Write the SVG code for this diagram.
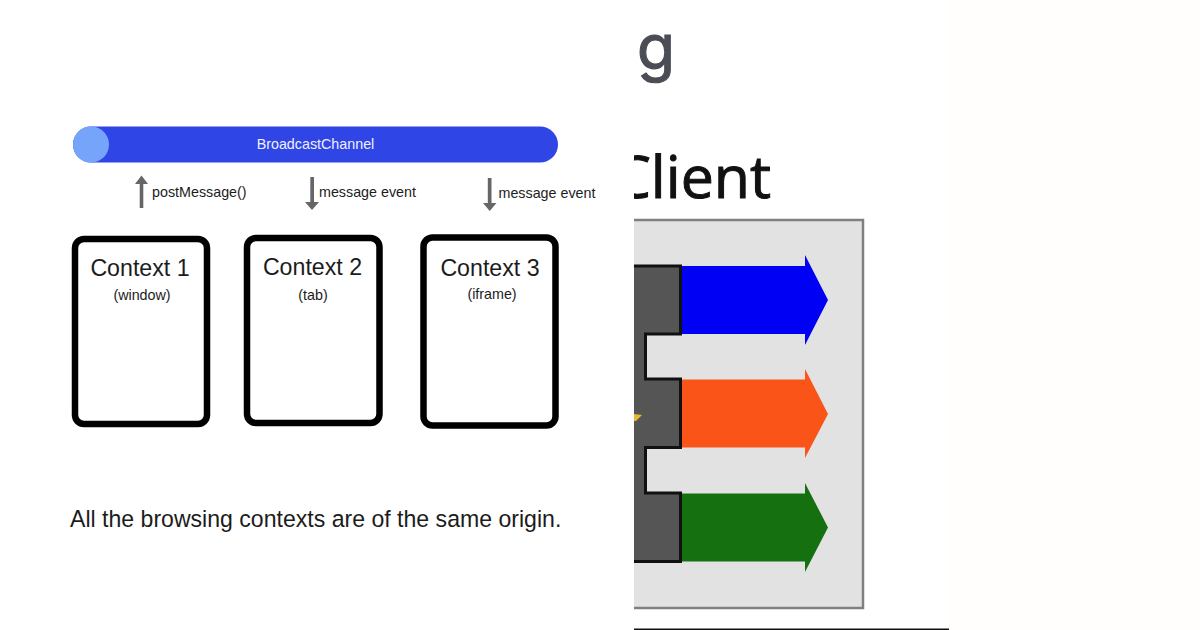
<svg xmlns="http://www.w3.org/2000/svg" width="1200" height="630" viewBox="0 0 1200 630">
<style>
text{font-family:"Liberation Sans",Arial,sans-serif;fill:#1c1c1c}
.t{font-size:23.200px;text-anchor:middle}
.s{font-size:14.300px;text-anchor:middle}
.l{font-size:14.300px}
.box{fill:#fff;stroke:#000;stroke-width:6.500}
.ar{fill:#666}
</style>
<defs><clipPath id="c"><rect x="634" y="0" width="316" height="630"/></clipPath></defs>
<rect width="1200" height="630" fill="#fff"/>
<rect x="950" width="250" height="630" fill="#fffefc"/>
<g id="channel">
<rect x="73" y="126.500" width="485" height="36" rx="18" fill="#3045e6"/>
<circle cx="91" cy="144.500" r="18" fill="#76a4fb"/>
<text x="315.500" y="149" class="s" style="fill:#eef0ff">BroadcastChannel</text>
</g>
<g id="connectors">
<path class="ar" d="M139.700 208V184H135L141.500 175.500L148 184H143.300V208Z"/>
<text x="152" y="197" class="l">postMessage()</text>
<path class="ar" d="M310.300 177V202H305L312 210L319 202H314V177Z"/>
<text x="319" y="197" class="l">message event</text>
<path class="ar" d="M487.800 178V203H483L489.700 211L496.500 203H491.500V178Z"/>
<text x="498.500" y="198" class="l">message event</text>
</g>
<g id="context1">
<rect x="75" y="239" width="132" height="185" rx="9" class="box"/>
<text x="140" y="276" class="t">Context 1</text>
<text x="142" y="300" class="s">(window)</text>
</g>
<g id="context2">
<rect x="247" y="238" width="132.500" height="185" rx="9" class="box"/>
<text x="312.500" y="275" class="t">Context 2</text>
<text x="313" y="300" class="s">(tab)</text>
</g>
<g id="context3">
<rect x="423.500" y="237.500" width="132" height="188" rx="9" class="box"/>
<text x="490" y="276" class="t">Context 3</text>
<text x="492" y="299" class="s">(iframe)</text>
</g>
<text x="70" y="527" style="font-size:23.080px">All the browsing contexts are of the same origin.</text>
<g id="figure" clip-path="url(#c)">
<text x="637" y="69" style="font-family:Inter,sans-serif;font-size:62px;fill:#4a4d55;stroke:#4a4d55;stroke-width:1.200px">g</text>
<text x="771" y="198" style="font-family:'Open Sans',sans-serif;font-size:59px;fill:#111;stroke:#111;stroke-width:1px;text-anchor:end">Client</text>
<rect x="620" y="220" width="243" height="388" fill="#e2e2e2" stroke="#808080" stroke-width="2.500"/>
<path d="M620 266H680.500V334H645.500V379H680.500V447.500H645.500V493H680.500V561.500H620Z" fill="#555" stroke="#111" stroke-width="3"/>
<path d="M682 266H805V255L828 300L805 345V334H682Z" fill="#0000f5"/>
<path d="M682 379.500H805V369L828 414L805 458V447.500H682Z" fill="#fb5418"/>
<path d="M682 493.500H805V483L828 527.500L805 572V561.500H682Z" fill="#157010"/>
<path d="M634 414L642 415L636 421L634 421Z" fill="#e8b830"/>
<rect x="620" y="628.500" width="329" height="1.500" fill="#111"/>
</g>
</svg>
